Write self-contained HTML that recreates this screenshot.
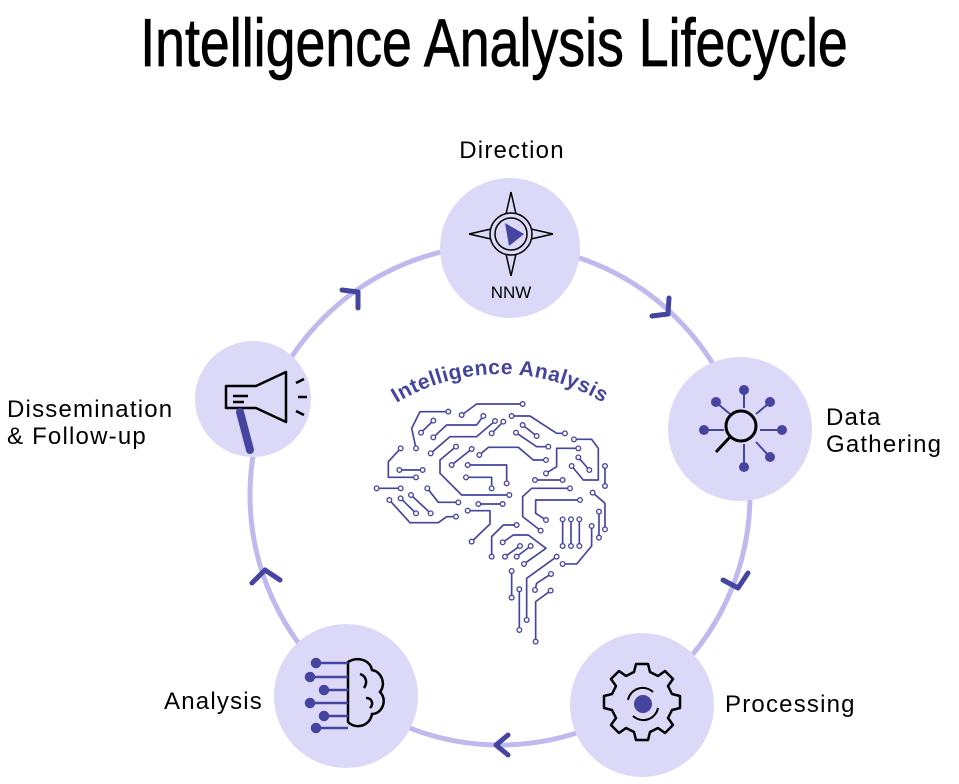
<!DOCTYPE html>
<html><head><meta charset="utf-8"><style>
html,body{margin:0;padding:0;background:#fff;width:959px;height:784px;overflow:hidden}
.t{font-family:"Liberation Sans",sans-serif;}
</style></head><body>
<svg width="959" height="784" viewBox="0 0 959 784" xmlns="http://www.w3.org/2000/svg">
<text x="494" y="66" text-anchor="middle" class="t" font-size="68" transform="translate(494 0) scale(0.79 1) translate(-494 0)" fill="#000" stroke="#000" stroke-width="0.8">Intelligence Analysis Lifecycle</text>
<circle cx="500" cy="495" r="250" fill="none" stroke="#c0b9ee" stroke-width="5"/>
<g fill="none" stroke="#4545a0" stroke-width="5" stroke-linecap="round" stroke-linejoin="round">
<polyline points="342,290 358,292 358,308"/>
<polyline points="669,298 668,314 652,316"/>
<polyline points="748,573 738,588 723,580"/>
<polyline points="508,735 496,745 508,755"/>
<polyline points="252,583 265,570 280,580"/>
</g>
<g fill="#dcd8f7">
<circle cx="510" cy="248" r="70"/>
<circle cx="740" cy="429" r="72"/>
<circle cx="642" cy="705" r="72"/>
<circle cx="346" cy="696" r="72"/>
<circle cx="253" cy="399" r="58"/>
</g>
<g fill="none" stroke="#000" stroke-width="1.5">
<circle cx="511" cy="234" r="21"/><circle cx="511" cy="234" r="16"/>
<path d="M511,192 L516,214 M511,192 L506,214 M511,276 L516,254 M511,276 L506,254 M469,234 L491,229 M469,234 L491,239 M553,234 L531,229 M553,234 L531,239"/>
</g>
<polygon points="505,223 524,234 509,246" fill="#4545a0"/>
<text x="511" y="298" text-anchor="middle" class="t" font-size="17" fill="#000">NNW</text>
<g stroke="#000" stroke-width="3" fill="none"><circle cx="741" cy="426" r="15"/><line x1="730" y1="437" x2="716" y2="452"/></g>
<g stroke="#4545a0" stroke-width="2"><line x1="744" y1="392" x2="744" y2="408"/><line x1="744" y1="444" x2="744" y2="465"/><line x1="706" y1="430" x2="724" y2="430"/><line x1="760" y1="430" x2="780" y2="430"/><line x1="718" y1="404" x2="730" y2="414"/><line x1="768" y1="404" x2="756" y2="414"/><line x1="768" y1="455" x2="756" y2="442"/></g>
<g fill="#4545a0"><circle cx="744" cy="390" r="5"/><circle cx="744" cy="467" r="5"/><circle cx="704" cy="430" r="5"/><circle cx="782" cy="430" r="5"/><circle cx="716" cy="402" r="5"/><circle cx="770" cy="402" r="5"/><circle cx="770" cy="457" r="5"/></g>
<path d="M642,664 l6,0 l2,8 l8,4 l7,-5 l8,8 l-5,7 l4,8 l8,2 l0,12 l-8,2 l-4,8 l5,7 l-8,8 l-7,-5 l-8,4 l-2,8 l-12,0 l-2,-8 l-8,-4 l-7,5 l-8,-8 l5,-7 l-4,-8 l-8,-2 l0,-12 l8,-2 l4,-8 l-5,-7 l8,-8 l7,5 l8,-4 l2,-8 z" fill="none" stroke="#000" stroke-width="2.5" stroke-linejoin="round"/>
<circle cx="643" cy="704" r="9" fill="#4545a0"/>
<path d="M628,700 a15,15 0 0 1 25,-8 M658,708 a15,15 0 0 1 -25,8" fill="none" stroke="#000" stroke-width="2"/>
<g fill="none" stroke="#000" stroke-width="2.5"><path d="M348,662 c10,-6 22,-2 24,8 c10,2 14,14 8,22 c8,8 2,22 -8,22 c-2,12 -16,16 -24,8 z"/><path d="M360,674 c6,2 8,8 4,14 M366,698 c6,0 8,6 4,10"/></g>
<g stroke="#4545a0" stroke-width="2.5" fill="#4545a0"><line x1="318" y1="663" x2="348" y2="663"/><line x1="312" y1="677" x2="348" y2="677"/><line x1="326" y1="690" x2="348" y2="690"/><line x1="312" y1="703" x2="348" y2="703"/><line x1="326" y1="716" x2="348" y2="716"/><line x1="318" y1="728" x2="348" y2="728"/>
<circle cx="316" cy="663" r="4"/><circle cx="310" cy="677" r="4"/><circle cx="324" cy="690" r="4"/><circle cx="310" cy="703" r="4"/><circle cx="324" cy="716" r="4"/><circle cx="316" cy="728" r="4"/></g>
<g fill="none" stroke="#000" stroke-width="2.5" stroke-linejoin="round"><path d="M226,386 h30 l30,-14 v50 l-30,-14 h-30 z"/><line x1="233" y1="396" x2="248" y2="396"/><line x1="233" y1="402" x2="244" y2="402"/><path d="M296,383 l8,-4 M298,397 h9 M296,411 l8,4"/></g>
<line x1="240" y1="412" x2="250" y2="450" stroke="#4545a0" stroke-width="8" stroke-linecap="round"/>
<g class="t" font-size="24" fill="#000" letter-spacing="1.2">
<text x="512" y="158" text-anchor="middle">Direction</text>
<text x="826" y="425">Data</text><text x="826" y="452">Gathering</text>
<text x="725" y="712">Processing</text>
<text x="263" y="709" text-anchor="end">Analysis</text>
<text x="7" y="417">Dissemination</text><text x="7" y="444">&amp; Follow-up</text>
</g>
<defs><path id="arc" d="M375,418 A200,200 0 0 1 625,418"/></defs>
<text class="t" font-size="21" font-weight="bold" fill="#4545a0" letter-spacing="0.5"><textPath href="#arc" startOffset="50%" text-anchor="middle">Intelligence Analysis</textPath></text>
<g transform="translate(370,340) scale(0.3333)" fill="none" stroke="#4545a0" stroke-width="5" stroke-linejoin="round">
<path d="M275,225 L320,192 L458,192 M138,325 L125,265 L150,215 L235,215 M153,278 L190,242 M190,292 L230,255 L320,255 L340,228 M182,340 L240,290 L320,290 L375,243 M365,280 L400,245 M425,228 L480,228 L560,280 L585,280 M458,255 L500,288 M438,278 L500,320 L535,320 M612,298 L665,298 L685,325 L685,420 L640,420 L605,378 M625,352 L658,390 M705,378 L705,438 M92,325 L55,365 L55,412 L138,412 M88,390 L158,390 M20,445 L92,445 M58,480 L120,548 L205,548 L230,530 L258,530 M92,475 L138,520 M123,465 L182,520 M172,445 L205,487 L265,487 M258,320 L210,360 L210,400 L275,465 L418,465 M245,375 L305,327 M328,345 L355,322 L445,322 L490,360 L528,360 M293,375 L410,375 L410,430 M288,412 L365,412 L365,445 M325,492 L398,492 M293,512 L360,512 L360,552 L305,605 M528,400 L560,380 L560,325 L625,325 M495,420 L578,420 M600,445 L485,445 L458,470 L458,530 L512,572 M630,480 L497,480 L497,520 L528,540 M668,458 L705,490 L705,568 M687,515 L687,593 M578,538 L578,618 M603,538 L603,618 M628,538 L628,618 M665,558 L665,618 L620,672 L578,672 M440,555 L400,555 L365,590 L365,650 M398,607 L430,585 L475,585 L528,625 L462,672 M405,650 L450,618 M440,650 L482,618 M425,693 L425,773 M448,748 L448,870 M560,650 L470,715 L470,840 M543,702 L500,730 L495,750 M542,752 L497,785 L497,905"/>
<g fill="#fff" stroke-width="4">
<circle cx="275" cy="225" r="7"/><circle cx="458" cy="192" r="7"/><circle cx="138" cy="325" r="7"/><circle cx="235" cy="215" r="7"/><circle cx="153" cy="278" r="7"/><circle cx="190" cy="242" r="7"/><circle cx="190" cy="292" r="7"/><circle cx="340" cy="228" r="7"/><circle cx="182" cy="340" r="7"/><circle cx="375" cy="243" r="7"/><circle cx="365" cy="280" r="7"/><circle cx="400" cy="245" r="7"/><circle cx="425" cy="228" r="7"/><circle cx="585" cy="280" r="7"/><circle cx="458" cy="255" r="7"/><circle cx="500" cy="288" r="7"/><circle cx="438" cy="278" r="7"/><circle cx="535" cy="320" r="7"/><circle cx="612" cy="298" r="7"/><circle cx="605" cy="378" r="7"/><circle cx="625" cy="352" r="7"/><circle cx="658" cy="390" r="7"/><circle cx="705" cy="378" r="7"/><circle cx="705" cy="438" r="7"/><circle cx="92" cy="325" r="7"/><circle cx="138" cy="412" r="7"/><circle cx="88" cy="390" r="7"/><circle cx="158" cy="390" r="7"/><circle cx="20" cy="445" r="7"/><circle cx="92" cy="445" r="7"/><circle cx="58" cy="480" r="7"/><circle cx="258" cy="530" r="7"/><circle cx="92" cy="475" r="7"/><circle cx="138" cy="520" r="7"/><circle cx="123" cy="465" r="7"/><circle cx="182" cy="520" r="7"/><circle cx="172" cy="445" r="7"/><circle cx="265" cy="487" r="7"/><circle cx="258" cy="320" r="7"/><circle cx="418" cy="465" r="7"/><circle cx="245" cy="375" r="7"/><circle cx="305" cy="327" r="7"/><circle cx="328" cy="345" r="7"/><circle cx="528" cy="360" r="7"/><circle cx="293" cy="375" r="7"/><circle cx="410" cy="430" r="7"/><circle cx="288" cy="412" r="7"/><circle cx="365" cy="445" r="7"/><circle cx="325" cy="492" r="7"/><circle cx="398" cy="492" r="7"/><circle cx="293" cy="512" r="7"/><circle cx="305" cy="605" r="7"/><circle cx="528" cy="400" r="7"/><circle cx="625" cy="325" r="7"/><circle cx="495" cy="420" r="7"/><circle cx="578" cy="420" r="7"/><circle cx="600" cy="445" r="7"/><circle cx="512" cy="572" r="7"/><circle cx="630" cy="480" r="7"/><circle cx="528" cy="540" r="7"/><circle cx="668" cy="458" r="7"/><circle cx="705" cy="568" r="7"/><circle cx="687" cy="515" r="7"/><circle cx="687" cy="593" r="7"/><circle cx="578" cy="538" r="7"/><circle cx="578" cy="618" r="7"/><circle cx="603" cy="538" r="7"/><circle cx="603" cy="618" r="7"/><circle cx="628" cy="538" r="7"/><circle cx="628" cy="618" r="7"/><circle cx="665" cy="558" r="7"/><circle cx="578" cy="672" r="7"/><circle cx="440" cy="555" r="7"/><circle cx="365" cy="650" r="7"/><circle cx="398" cy="607" r="7"/><circle cx="462" cy="672" r="7"/><circle cx="405" cy="650" r="7"/><circle cx="450" cy="618" r="7"/><circle cx="440" cy="650" r="7"/><circle cx="482" cy="618" r="7"/><circle cx="425" cy="693" r="7"/><circle cx="425" cy="773" r="7"/><circle cx="448" cy="748" r="7"/><circle cx="448" cy="870" r="7"/><circle cx="560" cy="650" r="7"/><circle cx="470" cy="840" r="7"/><circle cx="543" cy="702" r="7"/><circle cx="495" cy="750" r="7"/><circle cx="542" cy="752" r="7"/><circle cx="497" cy="905" r="7"/>
</g></g>
</svg>
</body></html>
